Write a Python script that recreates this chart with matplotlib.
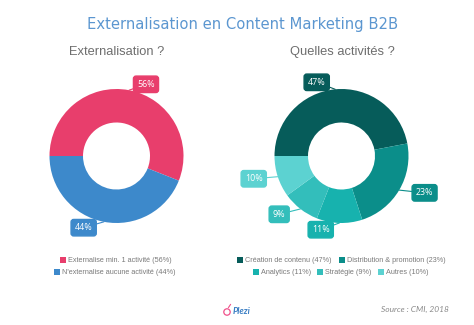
import matplotlib
matplotlib.use("Agg")
import matplotlib.pyplot as plt
from matplotlib.patches import Rectangle, Circle
import numpy as np

W, H = 474, 325
fig = plt.figure(figsize=(W/100, H/100), dpi=100)
fig.patch.set_facecolor("white")

title = "Externalisation en Content Marketing B2B"
left_title = "Externalisation ?"
right_title = "Quelles activités ?"

left_labels = ["Externalise min. 1 activité", "N'externalise aucune activité"]
left_values = [56, 44]
left_colors = ["#E83E6C", "#3D89CB"]

right_labels = ["Création de contenu", "Distribution & promotion", "Analytics", "Stratégie", "Autres"]
right_values = [47, 23, 11, 9, 10]
right_colors = ["#065C5A", "#0B8E8A", "#17B2AE", "#33BEBB", "#5CD2D1"]

source = "Source : CMI, 2018"

R = 67.0  # donut radius in px


def pie_axes(cx, cy):
    ax = fig.add_axes([(cx - R) / W, (H - cy - R) / H, 2 * R / W, 2 * R / H])
    ax.axis("off")
    return ax


def donut(ax, values, colors, label_pos):
    wedges, _ = ax.pie(values, colors=colors, startangle=180, counterclock=False,
                       radius=1, wedgeprops=dict(width=0.5, edgecolor="none"))
    ax.set_xlim(-1, 1)
    ax.set_ylim(-1, 1)
    ax.set_aspect("equal")
    for w, v, c, (lx, ly) in zip(wedges, values, colors, label_pos):
        ang = np.deg2rad((w.theta1 + w.theta2) / 2)
        ex, ey = np.cos(ang), np.sin(ang)
        ax.annotate(f"{v}%", xy=(ex, ey), xytext=(lx, ly), ha="center", va="center",
                    fontsize=6.4, color="white", family="Open Sans",
                    annotation_clip=False,
                    bbox=dict(boxstyle="round,pad=0.42,rounding_size=0.3", fc=c, ec=c),
                    arrowprops=dict(arrowstyle="-", color=c, lw=0.8,
                                    shrinkA=0, shrinkB=0))


axl = pie_axes(116.5, 156)
donut(axl, left_values, left_colors, [(0.44, 1.07), (-0.49, -1.07)])

axr = pie_axes(341.5, 156)
donut(axr, right_values, right_colors,
      [(-0.37, 1.10), (1.24, -0.55), (-0.31, -1.10), (-0.93, -0.87), (-1.31, -0.34)])

# overlay axes in pixel coords for texts
ov = fig.add_axes([0, 0, 1, 1])
ov.set_xlim(0, W)
ov.set_ylim(H, 0)
ov.axis("off")
ov.patch.set_alpha(0)

ov.text(243, 24, title, ha="center", va="center", fontsize=10.6, color="#5B96D0",
        family="DejaVu Sans")
ov.text(117, 52, left_title, ha="center", va="center", fontsize=9.3, color="#6E6E6E",
        family="Liberation Sans")
ov.text(342, 52, right_title, ha="center", va="center", fontsize=9.3, color="#6E6E6E",
        family="Liberation Sans")


def legend_item(x, y, label, value, color):
    ov.add_patch(Rectangle((x - 3, y - 3), 6, 6, fc=color, ec="none"))
    ov.text(x + 5, y, f"{label} ({value}%)", ha="left", va="center", fontsize=5.25,
            color="#7A7A7A", family="Liberation Sans")


legend_item(63, 260, left_labels[0], left_values[0], left_colors[0])
legend_item(57, 272, left_labels[1], left_values[1], left_colors[1])

rx = [240, 342, 256, 320, 381]
ry = [260, 260, 272, 272, 272]
for x, y, lab, v, c in zip(rx, ry, right_labels, right_values, right_colors):
    legend_item(x, y, lab, v, c)

# logo
ov.add_patch(Circle((227, 312), 3.2, fc="none", ec="#F0508A", lw=0.9))
ov.plot([228.5, 230.5], [307.5, 304.5], color="#F0508A", lw=0.8)
ov.text(233, 312, "Plezi", ha="left", va="center", fontsize=6.5, color="#3B7FC4",
        style="italic", weight="bold", family="Lato")

ov.text(415, 309, source, ha="center", va="center", fontsize=6.0, color="#8A8A8A",
        style="italic", family="Lato")

fig.savefig("out.png", dpi=100, facecolor="white")
